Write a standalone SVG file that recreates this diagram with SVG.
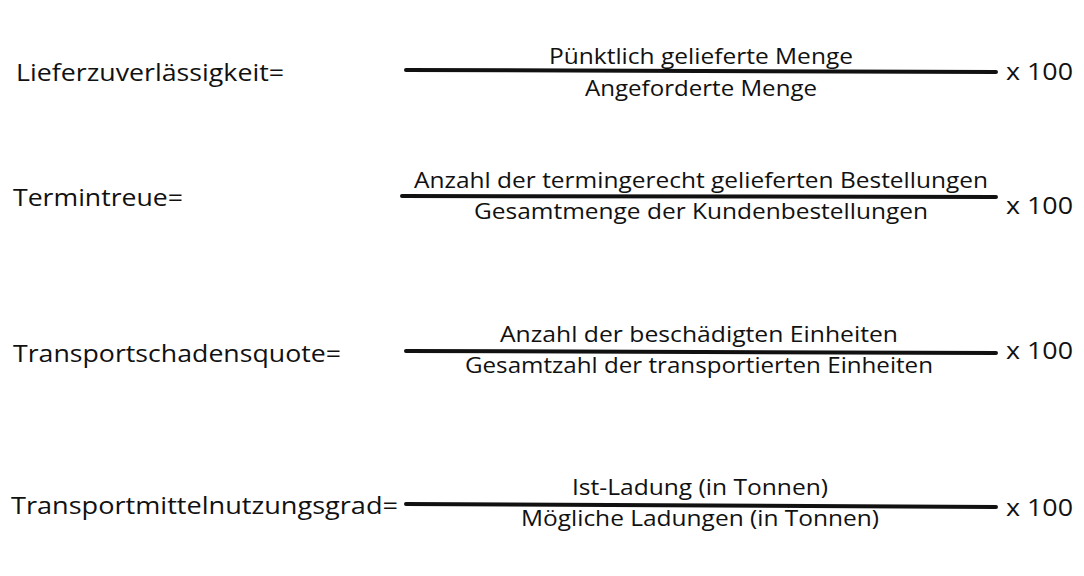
<svg xmlns="http://www.w3.org/2000/svg" width="1084" height="576" viewBox="0 0 1084 576">
<style>
.t{font-family:"Open Sans","Liberation Sans",sans-serif;font-size:23px;font-weight:500;fill:#111}
.f{font-family:"Open Sans","Liberation Sans",sans-serif;font-size:21px;font-weight:500;fill:#111;text-anchor:middle}
.x{font-family:"Open Sans","Liberation Sans",sans-serif;font-size:24px;font-weight:500;fill:#111}
.l{stroke:#111;stroke-width:4;stroke-linecap:round;fill:none}
</style>
<rect width="1084" height="576" fill="#fff"/>
<g id="connectors">
<line class="l" x1="406" y1="70" x2="996" y2="72"/>
<line class="l" x1="402" y1="196" x2="996" y2="197"/>
<line class="l" x1="406" y1="351" x2="996" y2="353"/>
<line class="l" x1="406" y1="504" x2="996" y2="507"/>
</g>
<g id="row1">
<text class="t" x="16" y="81" textLength="268" lengthAdjust="spacingAndGlyphs">Lieferzuverlässigkeit=</text>
<text class="f" x="701" y="64" textLength="304" lengthAdjust="spacingAndGlyphs">Pünktlich gelieferte Menge</text>
<text class="f" x="701" y="96" textLength="232" lengthAdjust="spacingAndGlyphs">Angeforderte Menge</text>
<text class="x" x="1006" y="80" textLength="67" lengthAdjust="spacingAndGlyphs">x 100</text>
</g>
<g id="row2">
<text class="t" x="13" y="206" textLength="170" lengthAdjust="spacingAndGlyphs">Termintreue=</text>
<text class="f" x="701" y="188" textLength="574" lengthAdjust="spacingAndGlyphs">Anzahl der termingerecht gelieferten Bestellungen</text>
<text class="f" x="701" y="219" textLength="454" lengthAdjust="spacingAndGlyphs">Gesamtmenge der Kundenbestellungen</text>
<text class="x" x="1006" y="214" textLength="67" lengthAdjust="spacingAndGlyphs">x 100</text>
</g>
<g id="row3">
<text class="t" x="13" y="362" textLength="328" lengthAdjust="spacingAndGlyphs">Transportschadensquote=</text>
<text class="f" x="699" y="342" textLength="398" lengthAdjust="spacingAndGlyphs">Anzahl der beschädigten Einheiten</text>
<text class="f" x="699" y="373" textLength="468" lengthAdjust="spacingAndGlyphs">Gesamtzahl der transportierten Einheiten</text>
<text class="x" x="1006" y="359" textLength="67" lengthAdjust="spacingAndGlyphs">x 100</text>
</g>
<g id="row4">
<text class="t" x="11" y="514" textLength="387" lengthAdjust="spacingAndGlyphs">Transportmittelnutzungsgrad=</text>
<text class="f" x="700" y="495" textLength="256" lengthAdjust="spacingAndGlyphs">Ist-Ladung (in Tonnen)</text>
<text class="f" x="700" y="526" textLength="358" lengthAdjust="spacingAndGlyphs">Mögliche Ladungen (in Tonnen)</text>
<text class="x" x="1006" y="516" textLength="67" lengthAdjust="spacingAndGlyphs">x 100</text>
</g>
</svg>
